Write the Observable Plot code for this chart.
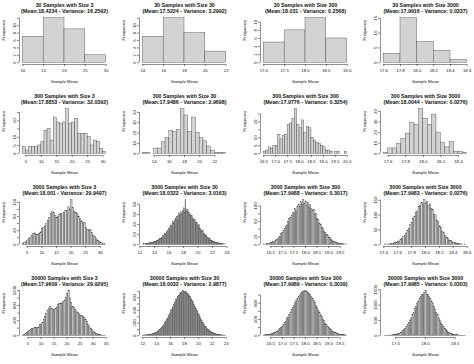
<!DOCTYPE html>
<html><head><meta charset="utf-8">
<script src="https://cdn.jsdelivr.net/npm/d3@7"></script>
<script src="https://cdn.jsdelivr.net/npm/@observablehq/plot@0.6"></script>
<style>
html,body{margin:0;padding:0;background:#fff;}
#chart{position:relative;width:474px;height:364px;overflow:hidden;background:#fff;}
.panel{position:absolute;width:121px;height:91px;}
.panel svg{overflow:visible;display:block;}
</style></head><body><div id="chart"></div>
<script>
const titleLine1 = [
  "30 Samples with Size 3","30 Samples with Size 30","30 Samples with Size 300","30 Samples with Size 3000",
  "300 Samples with Size 3","300 Samples with Size 30","300 Samples with Size 300","300 Samples with Size 3000",
  "3000 Samples with Size 3","3000 Samples with Size 30","3000 Samples with Size 300","3000 Samples with Size 3000",
  "30000 Samples with Size 3","30000 Samples with Size 30","30000 Samples with Size 300","30000 Samples with Size 3000"];
const titleLine2 = [
  "(Mean:18.4234 - Variance: 16.2592)","(Mean:17.5224 - Variance: 3.2992)","(Mean:18.031 - Variance: 0.2568)","(Mean:17.9916 - Variance: 0.0337)",
  "(Mean:17.8853 - Variance: 32.0392)","(Mean:17.9486 - Variance: 2.9698)","(Mean:17.9776 - Variance: 0.3254)","(Mean:18.0044 - Variance: 0.0276)",
  "(Mean:18.001 - Variance: 29.9497)","(Mean:18.0322 - Variance: 3.0163)","(Mean:17.9988 - Variance: 0.3017)","(Mean:17.9983 - Variance: 0.0276)",
  "(Mean:17.9609 - Variance: 29.9295)","(Mean:18.0032 - Variance: 2.9877)","(Mean:17.9989 - Variance: 0.3039)","(Mean:17.9985 - Variance: 0.0303)"];

const binStart = [10, 14, 17.0, 17.6, 4, 12.5, 16.5, 17.55, 3.5, 12.4, 16.2, 17.4, 3.0, 12.0, 16.2, 17.3];
const binWidth = [5, 2, 0.5, 0.2, 1, 0.5, 0.1, 0.05, 0.5, 0.1, 0.05, 0.02, 0.5, 0.1, 0.05, 0.02];

const counts01 = [7, 12, 9, 2];
const counts02 = [7, 12, 8, 3];
const counts03 = [5, 8, 11, 6];
const counts04 = [3, 15, 7, 4, 1];
const counts05 = [4,2,4,4,4,5,7,14,15,8,22,19,18,19,27,18,19,21,12,12,12,10,5,8,7,3,1];
const counts06 = [1,1,0,5,5,11,15,22,21,23,43,37,21,35,20,15,12,7,3,1,1,1];
const counts07 = [1,2,4,3,5,5,12,9,11,12,18,19,22,28,18,16,21,13,17,16,10,8,7,6,5,4,2,2,1,0,1,1,0,0,1];
const counts08 = [1,5,5,9,14,19,29,27,42,33,27,37,20,10,6,11,2,2,1];
const counts09 = [2,5,8,12,16,20,24,30,32,28, 27,30,35,44,48,52,60,68,75,88, 92,90,82,76,80,85,88,86,90,95,
  96,106,100,126,104,94,90,88,80,72, 66,60,62,48,42,40,42,34,26,22, 16,12,9,6,4,2,1];
const counts10 = [0,1, 1,0,1,1, 1,2,1,2,3,2,3,4,3,5, 4,6,5,7,8,7,10,9,12,11, 14,13,17,16,19,22,20,25,24,28,
  31,29,35,38,36,42,45,41,48,50, 52,55,49,58,62,57,60,64,59,66, 68,72,63,88,70,65,69,61,64,58,
  60,55,57,50,52,47,49,44,41,43, 38,36,39,32,30,28,26,27,22,21, 19,17,18,14,13,12,10,11,8,7,
  7,6,5,5,4,3,4,2,3,2, 2,1,1,1,0,1,0,0,1];
const counts11 = [1,0,1,2,1,3,4,5,7,6,10,12,14,17,20,27,30,36,41,47,50,58,66,69,74,83,80,92,86,99,104,97,110,102,115,106,
  112,101,108,96,103,92,88,90,78,79,66,64,55,52,44,42,33,31,25,24,17,17,12,11,8,8,5,5,3,3,2,2,1,1,0,1];
const counts12 = [0,1,0,1,1,2,2,4,5,6,10,11,17,19,26,30,38,47,53,66,73,88,95,108,112,128,130,141,136,150,
  139,145,131,136,121,117,101,99,82,77,62,58,43,40,29,24,21,14,13,9,6,5,4,2,2,1,1,0,1,0];
const counts13 = [5,22,43,72,94,124,148,178,188,203, 201,214,222,284,296,330,415,506,572,668,
  716,765,712,688,684,706,752,826,836,858, 852,889,934,1010,1112,1180,992,868,772,748,
  694,646,596,578,534,526,494,476,414,366, 296,244,186,152,108,82,54,36,21,15, 7,4,2,1];
const counts14 = [2,1,3,3,5,4,6,7,9,8, 12,14,15,20,23,27,30,37,41,47, 49,57,68,73,82,92,107,118,128,148,
  160,175,196,212,236,255,270,300,318,345, 362,392,410,442,461,487,515,531,560,572,
  598,615,622,648,672,655,690,679,701,686,
  695,683,690,671,662,664,639,634,609,600, 571,558,529,514,489,458,441,418,386,370,
  339,322,294,278,250,236,211,198,176,163, 143,133,116,108,93,86,73,67,57,52,
  44,40,33,30,24,23,18,17,13,12, 10,7,8,5,5,4,3,2,2,1];
const counts15 = [5,8,11,13,18,22,30,38,45,61,71,91,108,134,163,188,228,262,306,348,405,452,515,571,633,690,742,811,862,908,962,991,1035,1062,1070,1094,
  1079,1088,1050,1037,1002,949,915,851,811,740,693,621,572,502,458,398,355,300,266,220,193,158,134,108,92,70,60,46,38,28,24,16,13,11,7,6];
const counts16 = [0,1,1,2,3,4,7,8,14,18,27,35,51,63,89,109,148,178,233,276,350,406,499,566,672,749,866,938,1052,1118,1215,1256,1333,1341,1398,
  1452,1340,1331,1262,1213,1119,1052,941,861,751,671,568,498,405,350,277,232,178,148,108,89,63,50,35,27,18,14,8,6,4,3,2,1,1,0];

const xTicks01 = ["10","15","20","25","30"];
const xTicks02 = ["14","16","18","20","22"];
const xTicks03 = ["17.0","17.5","18.0","18.5","19.0"];
const xTicks04 = ["17.6","17.8","18.0","18.2","18.4","18.6"];
const xTicks05 = ["5","10","15","20","25","30"];
const xTicks06 = ["14","16","18","20","22"];
const xTicks07 = ["16.5","17.0","17.5","18.0","18.5","19.0","19.5","20.0"];
const xTicks08 = ["17.6","17.8","18.0","18.2","18.4"];
const xTicks09 = ["5","10","15","20","25","30"];
const xTicks10 = ["12","14","16","18","20","22","24"];
const xTicks11 = ["16.5","17.0","17.5","18.0","18.5","19.0","19.5"];
const xTicks12 = ["17.4","17.6","17.8","18.0","18.2","18.4","18.6"];
const xTicks13 = ["5","10","15","20","25","30","35"];
const xTicks14 = ["12","14","16","18","20","22","24"];
const xTicks15 = ["16.5","17.0","17.5","18.0","18.5","19.0","19.5"];
const xTicks16 = ["17.5","18.0","18.5"];

const yTicks01 = [0,2,4,6,8,10,12], yLabels01 = [0,2,4,6,8,10];
const yTicks02 = [0,2,4,6,8,10,12], yLabels02 = [0,2,4,6,8,10];
const yTicks03 = [0,2,4,6,8,10], yLabels03 = [0,2,4,6,8,10];
const yTicks04 = [0,5,10,15], yLabels04 = [0,5,10,15];
const yTicks05 = [0,5,10,15,20,25], yLabels05 = [0,5,10,20];
const yTicks06 = [0,10,20,30,40], yLabels06 = [0,10,20,30,40];
const yTicks07 = [0,5,10,15,20,25], yLabels07 = [0,5,10,20];
const yTicks08 = [0,10,20,30,40], yLabels08 = [0,10,20,30,40];
const yTicks09 = [0,20,40,60,80,100,120], yLabels09 = [0,40,80,120];
const yTicks10 = [0,20,40,60,80], yLabels10 = [0,20,40,60,80];
const yTicks11 = [0,20,40,60,80,100], yLabels11 = [0,20,60,100];
const yTicks12 = [0,50,100,150], yLabels12 = [0,50,100,150];
const yTicks13 = [0,200,400,600,800,1000,1200], yLabels13 = [0,400,800,1200];
const yTicks14 = [0,100,200,300,400,500,600,700], yLabels14 = [0,200,400,600];
const yTicks15 = [0,200,400,600,800,1000], yLabels15 = [0,400,800];
const yTicks16 = [0,500,1000,1500], yLabels16 = [0,500,1000,1500];

const allCounts = [counts01,counts02,counts03,counts04,counts05,counts06,counts07,counts08,counts09,counts10,counts11,counts12,counts13,counts14,counts15,counts16];
const allXTicks = [xTicks01,xTicks02,xTicks03,xTicks04,xTicks05,xTicks06,xTicks07,xTicks08,xTicks09,xTicks10,xTicks11,xTicks12,xTicks13,xTicks14,xTicks15,xTicks16];
const allYTicks = [yTicks01,yTicks02,yTicks03,yTicks04,yTicks05,yTicks06,yTicks07,yTicks08,yTicks09,yTicks10,yTicks11,yTicks12,yTicks13,yTicks14,yTicks15,yTicks16];
const allYLabels = [yLabels01,yLabels02,yLabels03,yLabels04,yLabels05,yLabels06,yLabels07,yLabels08,yLabels09,yLabels10,yLabels11,yLabels12,yLabels13,yLabels14,yLabels15,yLabels16];

const FONT = "'Liberation Sans', Arial, Helvetica, sans-serif";
const colPitch = 120.3, rowPitch = 91;
const chart = document.getElementById("chart");

function drawPanel(i) {
  const counts = allCounts[i], start = binStart[i], w = binWidth[i];
  const bins = counts.map((n, k) => ({x1: start + k * w, x2: start + (k + 1) * w, n}));
  const end = start + counts.length * w, span = end - start;
  const ymax = d3.max(counts);
  const xLo = start - 0.04 * span, xHi = end + 0.04 * span;
  const yLo = -0.04 * ymax, yHi = 1.04 * ymax;
  const xLabels = allXTicks[i], xVals = xLabels.map(Number);
  const yT = allYTicks[i], yL = allYLabels[i];
  const svg = Plot.plot({
    width: 120, height: 91,
    marginLeft: 19, marginRight: 11, marginTop: 16, marginBottom: 27,
    style: {fontFamily: FONT, background: "transparent", color: "#111", overflow: "visible"},
    x: {domain: [xLo, xHi], axis: null},
    y: {domain: [yLo, yHi], axis: null},
    marks: [
      Plot.rectY(bins, {x1: "x1", x2: "x2", y1: 0, y2: "n", fill: "#d3d3d3", stroke: "#3a3a3a", strokeWidth: 0.38}),
      Plot.ruleY([{y: yLo, a: xVals[0], b: xVals[xVals.length - 1]}], {y: "y", x1: "a", x2: "b", stroke: "#222", strokeWidth: 0.5}),
      Plot.axisX(xVals, {anchor: "bottom", tickSize: 2, tickPadding: 2.2, fontSize: 4.3, strokeWidth: 0.5,
        tickFormat: d => xLabels[xVals.indexOf(d)]}),
      Plot.ruleX([{x: xLo, a: yT[0], b: yT[yT.length - 1]}], {x: "x", y1: "a", y2: "b", stroke: "#222", strokeWidth: 0.5}),
      Plot.axisY(yT, {anchor: "left", tickSize: 2, strokeWidth: 0.5, tickFormat: () => ""}),
      Plot.text(yL, {y: d => d, text: d => String(d), frameAnchor: "left", dx: -3.2, rotate: -90,
        lineAnchor: "bottom", textAnchor: "middle", fontSize: 4.3}),
      Plot.text(["Frequency"], {text: d => d, frameAnchor: "left", dx: -16, rotate: -90, lineAnchor: "middle", fontSize: 4.4}),
      Plot.text(["Sample Mean"], {text: d => d, frameAnchor: "bottom", dy: 17, lineAnchor: "middle", fontSize: 4.4}),
      Plot.text([titleLine1[i]], {text: d => d, frameAnchor: "top", dy: -11.3, lineAnchor: "middle", fontSize: 5.3, fontWeight: "bold"}),
      Plot.text([titleLine2[i]], {text: d => d, frameAnchor: "top", dy: -5.2, lineAnchor: "middle", fontSize: 5.3, fontWeight: "bold"})
    ]
  });
  const div = document.createElement("div");
  div.className = "panel";
  div.style.left = ((i % 4) * colPitch) + "px";
  div.style.top = (Math.floor(i / 4) * rowPitch) + "px";
  div.appendChild(svg);
  chart.appendChild(div);
}
for (let i = 0; i < 16; i++) drawPanel(i);
</script></body></html>
